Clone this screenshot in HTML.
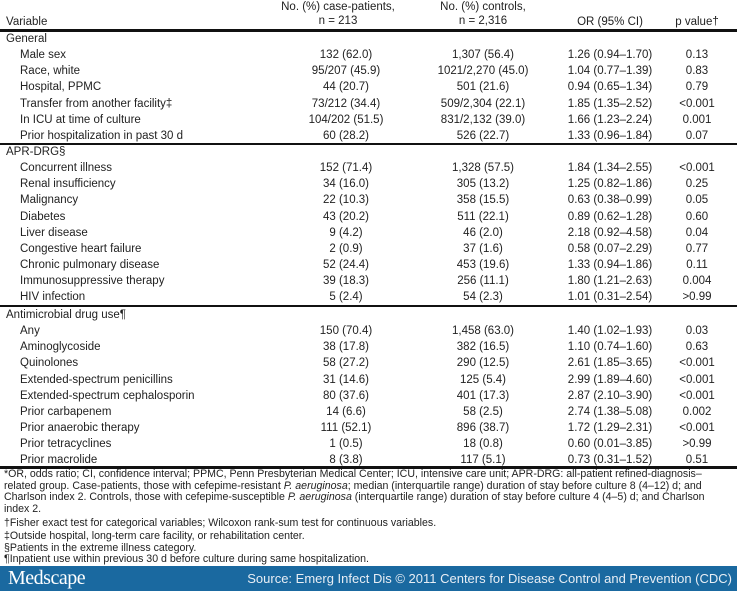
<!DOCTYPE html>
<html><head><meta charset="utf-8">
<style>
body{margin:0;width:737px;height:591px;background:#fff;position:relative;overflow:hidden;font-family:"Liberation Sans",Arial,sans-serif;color:#222}
.t{position:absolute;font-size:11.5px;line-height:14px;white-space:nowrap}
.c{transform:translateX(-50%)}
.ln{position:absolute;left:0;width:737px;background:#111}
.fn{position:absolute;left:4px;font-size:10.6px;line-height:11.5px;white-space:nowrap;color:#222}
#bar{position:absolute;left:0;top:566px;width:737px;height:25px;background:#1a69a0}
</style></head><body>
<div class="t" style="left:6px;top:15px">Variable</div>
<div class="t c" style="left:338px;top:0px;text-align:center">No. (%) case-patients,<br>n = 213</div>
<div class="t c" style="left:483px;top:0px;text-align:center">No. (%) controls,<br>n = 2,316</div>
<div class="t c" style="left:610px;top:15px">OR (95% CI)</div>
<div class="t c" style="left:697px;top:15px">p value†</div>
<div class="ln" style="top:29px;height:3px"></div>
<div class="ln" style="top:143px;height:2px"></div>
<div class="ln" style="top:305px;height:2px"></div>
<div class="ln" style="top:466px;height:3px"></div>
<div id="rows"></div>
<div class="fn" style="top:469px">*OR, odds ratio; CI, confidence interval; PPMC, Penn Presbyterian Medical Center; ICU, intensive care unit; APR-DRG: all-patient refined-diagnosis–<br>related group. Case-patients, those with cefepime-resistant <i>P. aeruginosa</i>; median (interquartile range) duration of stay before culture 8 (4–12) d; and<br>Charlson index 2. Controls, those with cefepime-susceptible <i>P. aeruginosa</i> (interquartile range) duration of stay before culture 4 (4–5) d; and Charlson<br>index 2.</div>
<div class="fn" style="top:518px">†Fisher exact test for categorical variables; Wilcoxon rank-sum test for continuous variables.</div>
<div class="fn" style="top:531px">‡Outside hospital, long-term care facility, or rehabilitation center.</div>
<div class="fn" style="top:543px">§Patients in the extreme illness category.</div>
<div class="fn" style="top:554px">¶Inpatient use within previous 30 d before culture during same hospitalization.</div>
<div id="bar">
<div style="position:absolute;left:8px;top:1px;font-family:'Liberation Serif',serif;font-size:20px;color:#fff;letter-spacing:-0.5px">Medscape</div>
<div style="position:absolute;right:5px;top:5px;font-size:13px;color:#e8eef5">Source: Emerg Infect Dis © 2011 Centers for Disease Control and Prevention (CDC)</div>
</div>
<script>
const sections=[["General",39],["APR-DRG§",152],["Antimicrobial drug use¶",315]];
const labels=[["Male sex","Race, white","Hospital, PPMC","Transfer from another facility‡","In ICU at time of culture","Prior hospitalization in past 30 d"],
["Concurrent illness","Renal insufficiency","Malignancy","Diabetes","Liver disease","Congestive heart failure","Chronic pulmonary disease","Immunosuppressive therapy","HIV infection"],
["Any","Aminoglycoside","Quinolones","Extended-spectrum penicillins","Extended-spectrum cephalosporin","Prior carbapenem","Prior anaerobic therapy","Prior tetracyclines","Prior macrolide"]];
const cases=[["132 (62.0)","95/207 (45.9)","44 (20.7)","73/212 (34.4)","104/202 (51.5)","60 (28.2)"],
["152 (71.4)","34 (16.0)","22 (10.3)","43 (20.2)","9 (4.2)","2 (0.9)","52 (24.4)","39 (18.3)","5 (2.4)"],
["150 (70.4)","38 (17.8)","58 (27.2)","31 (14.6)","80 (37.6)","14 (6.6)","111 (52.1)","1 (0.5)","8 (3.8)"]];
const controls=[["1,307 (56.4)","1021/2,270 (45.0)","501 (21.6)","509/2,304 (22.1)","831/2,132 (39.0)","526 (22.7)"],
["1,328 (57.5)","305 (13.2)","358 (15.5)","511 (22.1)","46 (2.0)","37 (1.6)","453 (19.6)","256 (11.1)","54 (2.3)"],
["1,458 (63.0)","382 (16.5)","290 (12.5)","125 (5.4)","401 (17.3)","58 (2.5)","896 (38.7)","18 (0.8)","117 (5.1)"]];
const ors=[["1.26 (0.94–1.70)","1.04 (0.77–1.39)","0.94 (0.65–1.34)","1.85 (1.35–2.52)","1.66 (1.23–2.24)","1.33 (0.96–1.84)"],
["1.84 (1.34–2.55)","1.25 (0.82–1.86)","0.63 (0.38–0.99)","0.89 (0.62–1.28)","2.18 (0.92–4.58)","0.58 (0.07–2.29)","1.33 (0.94–1.86)","1.80 (1.21–2.63)","1.01 (0.31–2.54)"],
["1.40 (1.02–1.93)","1.10 (0.74–1.60)","2.61 (1.85–3.65)","2.99 (1.89–4.60)","2.87 (2.10–3.90)","2.74 (1.38–5.08)","1.72 (1.29–2.31)","0.60 (0.01–3.85)","0.73 (0.31–1.52)"]];
const pvals=[["0.13","0.83","0.79","<0.001","0.001","0.07"],
["<0.001","0.25","0.05","0.60","0.04","0.77","0.11","0.004",">0.99"],
["0.03","0.63","<0.001","<0.001","<0.001","0.002","<0.001",">0.99","0.51"]];
const root=document.getElementById('rows');
function add(txt,x,y,center,name){const d=document.createElement('div');d.className='t'+(center?' c':'');d.textContent=txt;d.style.left=x+'px';d.style.top=(y-7)+'px';


root.appendChild(d);}
sections.forEach((s,si)=>{add(s[0],6,s[1],false,'section-label');
labels[si].forEach((l,i)=>{const y=s[1]+16.15*(i+1);
add(l,20,y,false,'row-label');add(cases[si][i],346,y,true,'case-value');add(controls[si][i],483,y,true,'control-value');add(ors[si][i],610,y,true,'or-value');add(pvals[si][i],697,y,true,'p-value');});});
</script>
</body></html>
